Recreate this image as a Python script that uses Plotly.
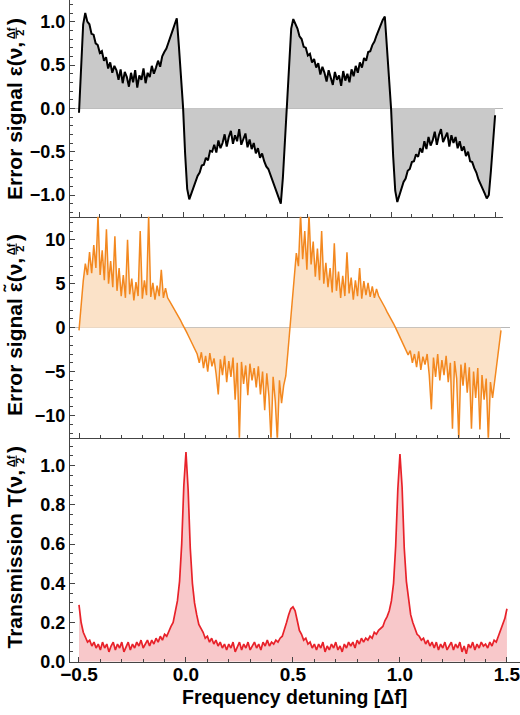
import numpy as np
import plotly.graph_objects as go

# frequency detuning grid in units of the free spectral range
detuning = np.linspace(-0.5, 1.5, 201)

# error signal eps(nu, df/2)
error_signal = [
    -0.05, 0.55, 0.97, 1.10, 1.00, 0.97, 0.86, 0.85, 0.75, 0.73,
    0.64, 0.66, 0.55, 0.59, 0.46, 0.53, 0.41, 0.49, 0.44, 0.33,
    0.45, 0.29, 0.42, 0.36, 0.25, 0.41, 0.30, 0.44, 0.24, 0.38,
    0.33, 0.46, 0.29, 0.41, 0.36, 0.49, 0.40, 0.47, 0.55, 0.48,
    0.60, 0.65, 0.69, 0.76, 0.82, 0.90, 0.97, 1.04, 0.72, 0.36,
    0.02, -0.52, -0.93, -1.05, -0.98, -0.90, -0.84, -0.78, -0.74, -0.66,
    -0.65, -0.57, -0.60, -0.49, -0.50, -0.42, -0.51, -0.37, -0.46, -0.40,
    -0.30, -0.44, -0.33, -0.26, -0.41, -0.31, -0.38, -0.24, -0.42, -0.35,
    -0.29, -0.45, -0.36, -0.47, -0.40, -0.52, -0.46, -0.57, -0.52, -0.61,
    -0.67, -0.70, -0.77, -0.82, -0.89, -0.96, -1.05, -1.10, -0.80, -0.40,
    0.00, 0.50, 0.92, 1.03, 0.97, 0.92, 0.83, 0.80, 0.71, 0.70,
    0.61, 0.63, 0.53, 0.57, 0.47, 0.52, 0.39, 0.48, 0.41, 0.31,
    0.44, 0.36, 0.27, 0.42, 0.33, 0.38, 0.26, 0.43, 0.32, 0.40,
    0.30, 0.45, 0.37, 0.49, 0.41, 0.53, 0.47, 0.58, 0.55, 0.65,
    0.66, 0.73, 0.77, 0.84, 0.90, 0.98, 1.02, 1.06, 0.72, 0.35,
    0.00, -0.55, -0.95, -1.08, -1.00, -0.93, -0.85, -0.81, -0.72, -0.70,
    -0.62, -0.61, -0.53, -0.56, -0.46, -0.51, -0.38, -0.47, -0.33, -0.43,
    -0.37, -0.27, -0.42, -0.31, -0.24, -0.39, -0.34, -0.28, -0.44, -0.31,
    -0.40, -0.33, -0.46, -0.38, -0.49, -0.44, -0.55, -0.50, -0.61, -0.62,
    -0.69, -0.74, -0.82, -0.87, -0.93, -0.98, -1.04, -1.00, -0.72, -0.38,
    -0.08,
]

# modified error signal eps~(nu, df/2), middle panel
error_signal_mod = [
    -0.3, 2.6, 5.3, 7.3, 6.0, 8.6, 6.2, 9.4, 6.8, 12.8,
    6.0, 8.8, 5.4, 11.2, 5.0, 7.6, 4.6, 10.4, 4.2, 6.8,
    3.6, 6.0, 3.4, 10.0, 3.8, 5.6, 3.1, 5.2, 3.6, 11.0,
    3.3, 5.4, 3.7, 12.8, 3.5, 5.1, 3.2, 4.8, 3.6, 6.6,
    3.4, 4.5, 3.4, 3.0, 2.6, 2.2, 1.8, 1.3, 0.9, 0.4,
    0.0, -0.5, -1.0, -1.5, -2.0, -2.6, -3.0, -4.0, -2.8, -4.6,
    -3.2, -5.0, -2.9, -4.4, -3.5, -5.3, -7.6, -3.6, -5.4, -3.2,
    -6.2, -3.8, -5.6, -3.4, -8.2, -4.0, -12.8, -3.9, -6.4, -4.3,
    -7.7, -4.1, -6.0, -4.6, -6.8, -4.4, -7.6, -5.0, -9.4, -5.2,
    -7.8, -12.8, -5.6, -8.3, -12.8, -6.0, -8.6, -6.6, -5.5, -2.8,
    0.0, 3.0, 5.8, 8.5, 7.0, 12.9, 7.8, 11.0, 6.6, 12.9,
    7.2, 9.8, 5.8, 9.0, 5.4, 11.0, 5.0, 7.4, 4.6, 6.8,
    4.0, 9.6, 4.2, 6.4, 3.4, 5.9, 3.6, 8.6, 3.9, 5.7,
    3.2, 5.4, 3.6, 6.8, 3.3, 5.3, 3.7, 5.1, 3.5, 4.7,
    3.4, 4.4, 3.6, 3.2, 2.8, 2.3, 1.8, 1.4, 0.9, 0.5,
    0.0, -0.5, -1.0, -1.5, -2.0, -2.5, -3.1, -2.6, -4.0, -3.0,
    -4.5, -2.7, -4.8, -3.3, -4.2, -3.0, -5.4, -9.3, -3.4, -5.6,
    -3.0, -6.0, -3.7, -5.4, -3.2, -6.2, -4.0, -11.5, -3.8, -5.8,
    -12.8, -4.2, -6.6, -4.0, -7.4, -4.5, -11.5, -5.0, -8.0, -4.6,
    -11.6, -5.4, -8.2, -5.8, -12.8, -6.2, -8.0, -6.1, -4.2, -2.2,
    -0.3,
]

# transmission T(nu, df/2), bottom panel
transmission = [
    0.29, 0.20, 0.15, 0.12, 0.10, 0.11, 0.08, 0.10, 0.07, 0.09,
    0.06, 0.10, 0.07, 0.09, 0.05, 0.08, 0.10, 0.06, 0.09, 0.07,
    0.10, 0.05, 0.08, 0.10, 0.06, 0.09, 0.07, 0.10, 0.08, 0.11,
    0.07, 0.09, 0.11, 0.08, 0.11, 0.09, 0.12, 0.10, 0.13, 0.11,
    0.14, 0.13, 0.16, 0.18, 0.20, 0.25, 0.31, 0.41, 0.60, 0.90,
    1.07, 0.88, 0.58, 0.40, 0.30, 0.24, 0.19, 0.17, 0.15, 0.12,
    0.13, 0.10, 0.12, 0.09, 0.11, 0.08, 0.10, 0.07, 0.09, 0.06,
    0.09, 0.07, 0.10, 0.05, 0.08, 0.10, 0.06, 0.09, 0.07, 0.10,
    0.06, 0.08, 0.10, 0.07, 0.09, 0.06, 0.10, 0.08, 0.11, 0.08,
    0.10, 0.09, 0.11, 0.10, 0.12, 0.13, 0.16, 0.20, 0.24, 0.27,
    0.28, 0.26, 0.21, 0.16, 0.14, 0.11, 0.12, 0.09, 0.10, 0.07,
    0.09, 0.06, 0.09, 0.07, 0.10, 0.05, 0.08, 0.06, 0.09, 0.07,
    0.10, 0.06, 0.08, 0.05, 0.09, 0.07, 0.10, 0.08, 0.10, 0.07,
    0.11, 0.09, 0.12, 0.10, 0.12, 0.11, 0.13, 0.12, 0.15, 0.14,
    0.16, 0.17, 0.18, 0.21, 0.23, 0.26, 0.31, 0.40, 0.59, 0.88,
    1.06, 0.89, 0.58, 0.41, 0.31, 0.24, 0.20, 0.17, 0.14, 0.13,
    0.11, 0.12, 0.09, 0.11, 0.08, 0.10, 0.07, 0.10, 0.06, 0.09,
    0.07, 0.10, 0.06, 0.08, 0.10, 0.06, 0.09, 0.07, 0.10, 0.05,
    0.08, 0.04, 0.09, 0.07, 0.10, 0.06, 0.09, 0.07, 0.10, 0.08,
    0.09, 0.07, 0.10, 0.08, 0.11, 0.10, 0.13, 0.15, 0.18, 0.22,
    0.27,
]

W, H = 520, 715


def px(v):
    return v / W


def py(v):
    return 1 - v / H


FONT = "Liberation Sans"
tickfont = dict(family=FONT, size=18, color="black", weight="bold")
axcol = "#444444"

fig = go.Figure()
fig.add_trace(go.Scatter(x=detuning, y=error_signal, mode="lines", fill="tozeroy",
                         fillcolor="#c9c9c9", line=dict(color="black", width=2.0),
                         xaxis="x", yaxis="y", hoverinfo="skip"))
fig.add_trace(go.Scatter(x=detuning, y=error_signal_mod, mode="lines", fill="tozeroy",
                         fillcolor="#fbe2c8", line=dict(color="#f3881f", width=1.5),
                         xaxis="x2", yaxis="y2", hoverinfo="skip"))
fig.add_trace(go.Scatter(x=detuning, y=transmission, mode="lines", fill="tozeroy",
                         fillcolor="#f8c8ca", line=dict(color="#e8222a", width=1.7),
                         xaxis="x3", yaxis="y3", hoverinfo="skip"))


def xax(dom_right, rng, anchor, labels):
    return dict(domain=[px(70), dom_right], range=rng, anchor=anchor, automargin=False,
                showline=True, linecolor=axcol, linewidth=1, mirror=False,
                ticks="inside", ticklen=5, tickcolor=axcol, tick0=-0.5, dtick=0.5,
                minor=dict(dtick=0.1, ticks="inside", ticklen=3, tickcolor=axcol),
                showgrid=False, zeroline=False, showticklabels=labels,
                tickformat=".1f", tickfont=dict(tickfont, size=19),
                ticklabelstandoff=-5, ticklabeloverflow="allow")


def yax(dom, rng, anchor, dtick, minor, fmt, zero):
    return dict(domain=dom, range=rng, anchor=anchor, automargin=False,
                showline=True, linecolor=axcol, linewidth=1,
                ticks="inside", ticklen=5, tickcolor=axcol, tick0=0, dtick=dtick,
                minor=dict(dtick=minor, ticks="inside", ticklen=3, tickcolor=axcol),
                showgrid=False, zeroline=zero, zerolinecolor="#b8b8b8", zerolinewidth=1,
                tickformat=fmt, tickfont=tickfont)


fig.update_layout(
    width=W, height=H, autosize=False,
    margin=dict(l=0, r=0, t=0, b=0, pad=0),
    paper_bgcolor="white", plot_bgcolor="rgba(0,0,0,0)",
    showlegend=False, hovermode=False,
    xaxis=xax(px(503), [-0.5433, 1.538], "y", False),
    xaxis2=xax(px(510), [-0.5427, 1.5427], "y2", False),
    xaxis3=xax(1.0, [-0.542, 1.561], "y3", True),
    yaxis=yax([py(216.7), 1.0], [-1.25, 1.25], "x", 0.5, 0.1, ".1f", True),
    yaxis2=yax([py(437.7), py(216.7)], [-12.53, 12.64], "x2", 5, 1, "d", True),
    yaxis3=yax([py(661.7), py(437.7)], [0, 1.143], "x3", 0.2, 0.05, ".1f", False),
)

titlefont = dict(family=FONT, size=21, color="black", weight="bold")
fracfont = dict(family=FONT, size=11, color="black", weight="bold")

ylabels = [("Error signal ε(ν,", 40), ("Error signal ε̃(ν,", 256), ("Transmission T(ν,", 468)]
annotations = []
shapes = []
for text, end in ylabels:
    annotations.append(dict(text=text, x=px(14), y=py(end), xref="paper", yref="paper",
                            xanchor="center", yanchor="top", textangle=-90,
                            showarrow=False, font=titlefont))
    annotations.append(dict(text="Δf", x=px(11.2), y=py(end - 7), xref="paper", yref="paper",
                            xanchor="center", yanchor="middle", textangle=-90,
                            showarrow=False, font=fracfont))
    annotations.append(dict(text="2", x=px(19.7), y=py(end - 7), xref="paper", yref="paper",
                            xanchor="center", yanchor="middle", textangle=-90,
                            showarrow=False, font=fracfont))
    annotations.append(dict(text=")", x=px(14), y=py(end - 18), xref="paper", yref="paper",
                            xanchor="center", yanchor="middle", textangle=-90,
                            showarrow=False, font=titlefont))
    shapes.append(dict(type="line", xref="paper", yref="paper",
                       x0=px(16.2), x1=px(16.2), y0=py(end - 12.5), y1=py(end - 1.5),
                       line=dict(color="black", width=1)))

annotations.append(dict(text="Frequency detuning [Δf]", x=px(294), y=py(697),
                        xref="paper", yref="paper", xanchor="center", yanchor="middle",
                        showarrow=False, font=dict(titlefont, size=19.5)))

fig.update_layout(annotations=annotations, shapes=shapes)

# the page body keeps its default 8px margin otherwise
fig.write_html("out.html", config={"displayModeBar": False, "staticPlot": True},
               post_script="document.body.style.margin='0';document.body.style.overflow='hidden';")
